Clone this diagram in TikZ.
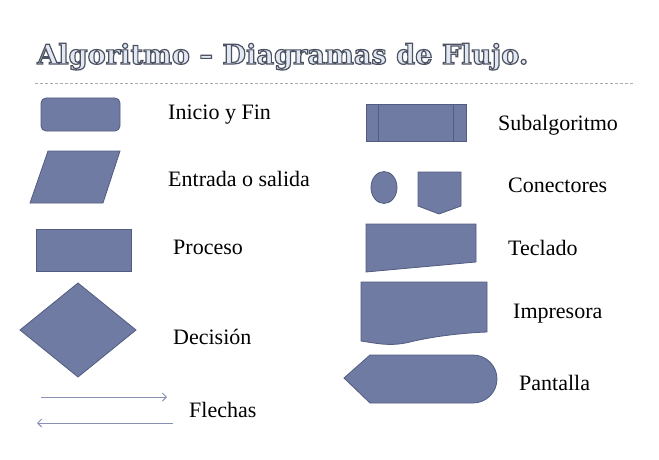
\documentclass[tikz,border=0pt]{standalone}
\usepackage{fontspec}
\setmainfont{Liberation Serif}
\newfontfamily\titlefont{DejaVu Serif}
\usetikzlibrary{arrows.meta}
\definecolor{shapefill}{RGB}{111,123,163}
\definecolor{shapeborder}{RGB}{82,92,128}
\definecolor{arrowcol}{RGB}{138,144,180}
\definecolor{titlefill}{RGB}{226,233,242}
\definecolor{dashcol}{RGB}{170,170,175}
\tikzset{
  fshape/.style={fill=shapefill, draw=shapeborder, line width=0.8pt},
  lbl/.style={anchor=base west, inner sep=0pt, font=\fontsize{22}{26}\selectfont},
  samplearrow/.style={draw=arrowcol, line width=0.9pt, -{Straight Barb[length=4pt,width=8pt]}}
}
\begin{document}
\begin{tikzpicture}[x=1pt,y=-1pt]
\useasboundingbox (0,0) rectangle (659,460);
% title
\node[anchor=base west, inner sep=0pt] (title) at (37,64)
  {\titlefont\bfseries\fontsize{27.2}{31}\selectfont\color{titlefill}\special{pdf:literal direct 2 Tr 1.2 w 0.30 0.32 0.38 RG}Algoritmo – Diagramas de Flujo.\special{pdf:literal direct 0 Tr}};
\coordinate (dl) at (35,83);
\coordinate (dr) at (635,83);
\draw[dashcol, line width=0.7pt, dash pattern=on 3pt off 2pt] (dl) -- (dr);
% left column
\node[fshape, rounded corners=5pt, minimum width=79pt, minimum height=33pt, inner sep=0pt] (inicio) at (80.5,114.5) {};
\path[fshape] (48,151) -- (120,151) -- (103,203) -- (30,203) -- cycle;
\node[fshape, minimum width=95pt, minimum height=42pt, inner sep=0pt] (proceso) at (83.5,250) {};
\path[fshape] (20,330) -- (78,283) -- (136,330) -- (78,377) -- cycle;
\coordinate (a1s) at (41,397);
\coordinate (a1e) at (167,397);
\coordinate (a2s) at (173,423);
\coordinate (a2e) at (37,423);
\draw[samplearrow] (a1s) -- (a1e);
\draw[samplearrow] (a2s) -- (a2e);
% left labels
\node[lbl] (l1) at (168,119) {Inicio y Fin};
\node[lbl] (l2) at (168,186) {Entrada o salida};
\node[lbl] (l3) at (173,254) {Proceso};
\node[lbl] (l4) at (173,344) {Decisión};
\node[lbl] (l5) at (189,417) {Flechas};
% right column
\node[fshape, minimum width=100pt, minimum height=37pt, inner sep=0pt] (sub) at (416,122.5) {};
\draw[shapeborder, line width=0.8pt] (378,104) -- (378,141);
\draw[shapeborder, line width=0.8pt] (453,104) -- (453,141);
\path[fshape] (384,187.5) ellipse [x radius=13, y radius=16];
\path[fshape] (418,172) -- (461,172) -- (461,206) -- (439,214) -- (418,206) -- cycle;
\path[fshape] (366,224) -- (476,224) -- (476,262) -- (366,272) -- cycle;
\path[fshape] (361,282) -- (487,282) -- (487,332)
  .. controls (460,333) and (430,337) .. (410,342)
  .. controls (390,347) and (375,343) .. (361,341) -- cycle;
\path[fshape] (344,378) -- (370,355) -- (473,355) arc[start angle=-90, end angle=90, radius=24] -- (370,403) -- cycle;
% right labels
\node[lbl] (r1) at (498,130) {Subalgoritmo};
\node[lbl] (r2) at (508,192) {Conectores};
\node[lbl] (r3) at (508,255) {Teclado};
\node[lbl] (r4) at (513,318) {Impresora};
\node[lbl] (r5) at (519,390) {Pantalla};
\end{tikzpicture}
\end{document}
